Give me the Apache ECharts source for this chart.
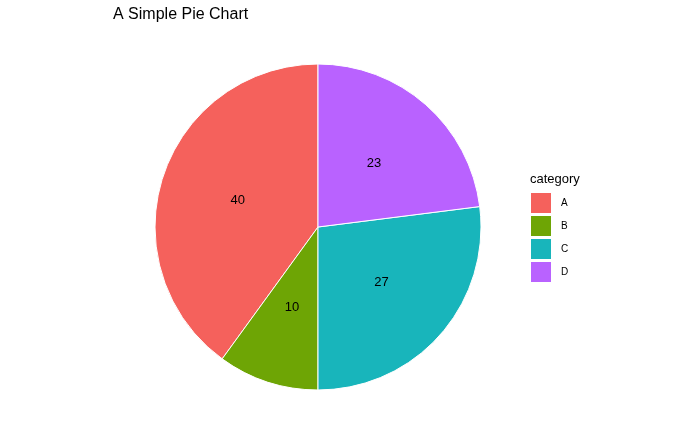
<!DOCTYPE html>
<html><head><meta charset="utf-8">
<script src="https://cdn.jsdelivr.net/npm/echarts@6/dist/echarts.min.js"></script>
<style>html,body{margin:0;padding:0;background:#fff}#c{width:700px;height:432px}</style>
</head><body><div id="c"></div>
<script>
const categories = ['A', 'B', 'C', 'D'];
const values = [40, 10, 27, 23];
const colors = ['#F5615C', '#6EA505', '#18B5BB', '#B962FF'];

const chart = echarts.init(document.getElementById('c'), null, {renderer: 'canvas'});
chart.setOption({
  animation: false,
  backgroundColor: '#ffffff',
  title: [
    {text: 'A Simple Pie Chart', left: 113, top: 7, padding: 0,
     textStyle: {fontFamily: 'Liberation Sans', fontSize: 16, fontWeight: 'normal', color: '#000'}},
    {text: 'category', left: 530, top: 173, padding: 0,
     textStyle: {fontFamily: 'Liberation Sans', fontSize: 13, fontWeight: 'normal', color: '#000'}}
  ],
  legend: {
    orient: 'vertical', left: 531, top: 193, padding: 0,
    itemWidth: 20, itemHeight: 20, itemGap: 3,
    icon: 'rect',
    data: categories,
    itemStyle: {borderColor: '#fff', borderWidth: 0},
    textStyle: {fontFamily: 'Liberation Sans', fontSize: 10, color: '#000', padding: [0, 0, 0, 5]}
  },
  series: [{
    type: 'pie',
    center: [318, 227],
    radius: [0, 163],
    startAngle: 90,
    clockwise: false,
    avoidLabelOverlap: false,
    label: {show: true, position: 'inside', formatter: '{c}',
            fontFamily: 'Liberation Sans', fontSize: 13, color: '#000'},
    labelLine: {show: false},
    itemStyle: {borderColor: '#fff', borderWidth: 1},
    emphasis: {disabled: true},
    data: categories.map((c, i) => ({name: c, value: values[i], itemStyle: {color: colors[i]}}))
  }]
});
</script></body></html>
